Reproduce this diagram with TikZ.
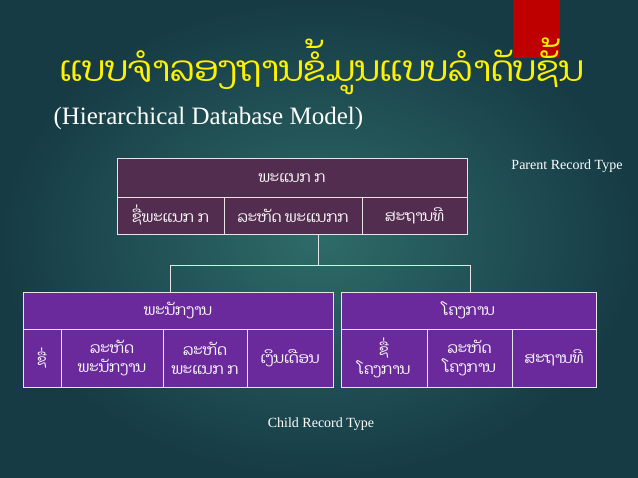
\documentclass[tikz,border=0pt]{standalone}
\usepackage{fontspec}
\newfontfamily\lao[Script=Lao]{Dhyana}
\setmainfont{Liberation Serif}
\begin{document}
\begin{tikzpicture}[x=1pt,y=-1pt,
  cellA/.style={draw=white!80!gray,line width=0.8pt,fill=topc},
  cellB/.style={draw=white!80!gray,line width=0.8pt,fill=childc},
  lt/.style={text=white,font=\lao\fontsize{15}{19}\selectfont,align=center}]
\definecolor{bgA}{HTML}{2E6B68}\definecolor{bgB}{HTML}{163B45}
\definecolor{topc}{HTML}{532D4F}\definecolor{childc}{HTML}{6A2A9C}
\useasboundingbox (0,0) rectangle (638,478);
\shade[inner color=bgA,outer color=bgB] (0,0) rectangle (638,478);
\fill[red!75!black] (513,0) rectangle (560,58);
\node[anchor=west,text=yellow,font=\lao\fontsize{35.5}{38}\selectfont] (title) at (56,66) {ແບບຈຳລອງຖານຂໍ້ມູນແບບລຳດັບຊັ້ນ};
\node[anchor=west,text=white,font=\fontsize{25}{27}\selectfont] (sub) at (50,118) {(Hierarchical Database Model)};
\node[anchor=east,text=white,font=\fontsize{14}{16}\selectfont] (prt) at (626,166) {Parent Record Type};
\node[text=white,font=\fontsize{14}{16}\selectfont] (crt) at (321,424) {Child Record Type};
% connectors
\coordinate (j) at (318,265);
\coordinate (jl) at (170,265);\coordinate (jr) at (470,265);
\draw[white!80!gray,line width=0.8pt] (318,234) -- (j) (jl) -- (jr) (jl) -- (170,292) (jr) -- (470,292);
% top
\draw[cellA] (117,158) rectangle (467,197); \node[lt] (t0) at (292,178) {ພະແນກ ກ};
\draw[cellA] (117,197) rectangle (224,234); \node[lt] (t1) at (170.5,215.5) {ຊື່ພະແນກ ກ};
\draw[cellA] (224,197) rectangle (362,234); \node[lt] (t2) at (293,215.5) {ລະຫັດ ພະແນກກ};
\draw[cellA] (362,197) rectangle (467,234); \node[lt] (t3) at (414.5,215.5) {ສະຖານທີ};
% left child
\draw[cellB] (23,292) rectangle (333,329); \node[lt] (l0) at (178,310.5) {ພະນັກງານ};
\draw[cellB] (23,329) rectangle (61,387); \node[lt] (l1) at (42,358) {ຊື່};
\draw[cellB] (61,329) rectangle (163,387); \node[lt] (l2) at (112,358) {ລະຫັດ\\ພະນັກງານ};
\draw[cellB] (163,329) rectangle (247,387); \node[lt] (l3) at (205,358) {ລະຫັດ\\ພະແນກ ກ};
\draw[cellB] (247,329) rectangle (333,387); \node[lt] (l4) at (290,358) {ເງິນເດືອນ};
% right child
\draw[cellB] (341,292) rectangle (596,329); \node[lt] (r0) at (468.5,310.5) {ໂຄງການ};
\draw[cellB] (341,329) rectangle (427,387); \node[lt] (r1) at (384,358) {ຊື່\\ໂຄງການ};
\draw[cellB] (427,329) rectangle (512,387); \node[lt] (r2) at (469.5,358) {ລະຫັດ\\ໂຄງການ};
\draw[cellB] (512,329) rectangle (596,387); \node[lt] (r3) at (554,358) {ສະຖານທີ};
\end{tikzpicture}
\end{document}
